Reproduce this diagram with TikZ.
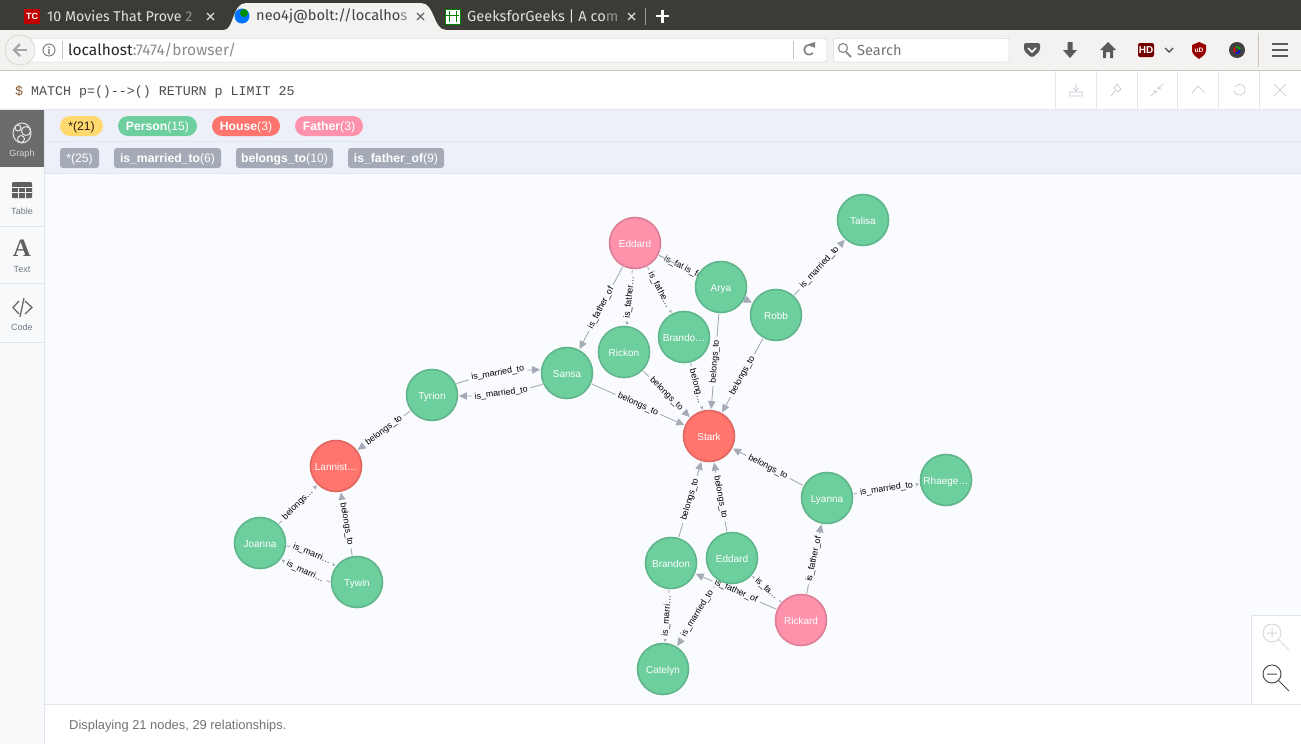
\documentclass[tikz,border=0pt]{standalone}
\usepackage{fontspec}
\setmainfont{Liberation Sans}
\setmonofont{Liberation Mono}
\newfontfamily\tabfont{Fira Sans}
\newfontfamily\serffont{Liberation Serif}
\usetikzlibrary{arrows.meta,backgrounds}

\definecolor{darkbar}{HTML}{3D3B36}
\definecolor{toolbg}{HTML}{F3F2F0}
\definecolor{toolline}{HTML}{C9C5C0}
\definecolor{stripbg}{HTML}{EDF0F8}
\definecolor{stripline}{HTML}{E1E5EE}
\definecolor{canvasbg}{HTML}{FAFBFE}
\definecolor{sidebg}{HTML}{F8F9FB}
\definecolor{sidedark}{HTML}{6B6B6B}
\definecolor{sidetext}{HTML}{717784}
\definecolor{relgrey}{HTML}{A5ABB6}
\definecolor{persongreen}{HTML}{6DCE9E}
\definecolor{personline}{HTML}{60B58B}
\definecolor{housered}{HTML}{FF756E}
\definecolor{houseline}{HTML}{E06760}
\definecolor{fatherpink}{HTML}{FF92AB}
\definecolor{fatherline}{HTML}{DC7E96}
\definecolor{allyellow}{HTML}{FFD86E}
\definecolor{icongrey}{HTML}{5A5A5A}

\tikzset{
  person/.style={circle,draw=personline,fill=persongreen,line width=1.6pt,minimum size=51pt,inner sep=0pt,text=white,font=\fontsize{10}{12}\selectfont,text height=9.6pt,text depth=0pt,outer sep=1.5pt},
  house/.style={person,draw=houseline,fill=housered},
  father/.style={person,draw=fatherline,fill=fatherpink},
  rel/.style={draw=relgrey,line width=.9pt,->},
  rellabel/.style={sloped,fill=canvasbg,inner xsep=3pt,inner ysep=.5pt,text=black,font=\fontsize{8.8}{10}\selectfont},
  pill/.style={rounded corners=10pt,minimum height=20pt,inner sep=0pt,text=white,text height=9pt,text depth=0pt,font=\fontsize{12.2}{14}\selectfont},
  relpill/.style={pill,rounded corners=3pt,fill=relgrey},
  tabtext/.style={anchor=west,inner sep=0pt,text=white!88!black,font=\tabfont\fontsize{14.6}{16}\selectfont},
  sidelabel/.style={inner sep=0pt,text=sidetext,font=\fontsize{9}{11}\selectfont},
  cornerbtn/.style={draw=relgrey!70,line width=.6pt},
  closex/.style={draw=white!85!black,line width=1.4pt},
  tooldark/.style={fill=icongrey}
}

\begin{document}
\begin{tikzpicture}[x=1pt,y=-1pt,>={Stealth[inset=0pt,length=8pt,width=7.5pt]}]
\useasboundingbox (0,0) rectangle (1301,744);

\begin{pgfonlayer}{background}
% browser frame
\fill[white] (0,0) rectangle (1301,744);
\fill[darkbar] (0,0) rectangle (1301,30);
\fill[toolbg] (0,30) rectangle (1301,70);
\draw[toolline] (0,70) -- (1301,70);
\fill[toolbg] (224,30) .. controls (234,30) and (232,3) .. (246,3) -- (421,3) .. controls (435,3) and (433,30) .. (446,30) -- cycle;
% neo4j panels
\fill[stripbg] (44,110) rectangle (1301,173);
\fill[canvasbg] (44,174) rectangle (1301,704);
\fill[sidebg] (0,110) rectangle (44,744);
\fill[sidedark] (0,110) rectangle (44,167);
\draw[stripline] (0,109.5) -- (1301,109.5);
\draw[stripline] (44,141) -- (1301,141);
\draw[stripline] (44,173.5) -- (1301,173.5);
\draw[stripline] (44,110) -- (44,744);
\draw[stripline] (0,226) -- (44,226);
\draw[stripline] (0,283) -- (44,283);
\draw[stripline] (0,342) -- (44,342);
\fill[white] (45,705) rectangle (1301,744);
\draw[stripline] (44,704.5) -- (1301,704.5);
\fill[white] (1251,615) rectangle (1301,704);
\draw[stripline] (1251,704) -- (1251,615) -- (1301,615);
\end{pgfonlayer}

% tabs
\fill[red!75!black] (24,9) rectangle (40,24);
\node[inner sep=0pt,text=white,font=\bfseries\fontsize{9}{10}\selectfont] (tcicon) at (32,16.5) {TC};
\node[tabtext,font=\tabfont\fontsize{14.2}{16}\selectfont] (tabone) at (47,16) {10 Movies That Prove {\color{white!45!darkbar}2}};
\draw[closex] (207,13) -- (214,20) (214,13) -- (207,20);
\fill[blue!55!cyan] (242,16) circle (7.5pt);
\fill[green!55!black] (244,13) circle (4pt);
\node[tabtext,text=black!75] (tabtwo) at (256,16) {neo4j@bolt://localho{\color{black!45}s}};
\draw[closex,draw=black!60] (417,13) -- (424,20) (424,13) -- (417,20);
\draw[green!50!black,fill=white] (445,9) rectangle (460,24);
\draw[green!50!black,line width=.9pt] (449,11) -- (449,22) (456,11) -- (456,22) (446,15) -- (459,15);
\node[tabtext] (tabthree) at (467,16) {GeeksforGeeks | A co{\color{white!45!darkbar}m}};
\draw[closex] (628,13) -- (635,20) (635,13) -- (628,20);
\draw[white!50!darkbar] (645,8) -- (645,25);
\draw[white,line width=2.2pt] (656,16) -- (669,16) (662.5,9.5) -- (662.5,22.5);

% address bar
\draw[toolline,fill=white,rounded corners=2pt] (20,38.5) rectangle (827,62);
\draw[toolline,fill=toolbg] (20,50) circle (15pt);
\draw[black!35,line width=2.4pt] (14,50) -- (27,50);
\draw[black!35,line width=2.4pt] (20,44) -- (14,50) -- (20,56);
\draw[black!60,line width=.8pt] (49,50) circle (6pt);
\fill[black!60] (48.3,46.5) rectangle (49.7,48) (48.3,49) rectangle (49.7,54);
\draw[toolline] (62,41) -- (62,59);
\node[anchor=west,inner sep=0pt,font=\tabfont\fontsize{15.5}{17}\selectfont] (address) at (68,50.5) {\textcolor{black!85}{localhost}\textcolor{black!45}{:7474/browser/}};
\draw[toolline] (793,41) -- (793,59);
\draw[black!50,line width=1.6pt] (813,46.5) arc[start angle=40,end angle=320,radius=5pt];
\fill[black!50] (809,44) -- (815,42) -- (815,48) -- cycle;
\draw[toolline,fill=white,rounded corners=2pt] (833.5,38.5) rectangle (1009,62);
\draw[black!45,line width=1.2pt] (843,48) circle (4.5pt);
\draw[black!45,line width=1.8pt] (846,52) -- (851,57);
\node[anchor=west,inner sep=0pt,text=black!55,font=\tabfont\fontsize{14.6}{16}\selectfont] (search) at (857,50.5) {Search};

% toolbar icons
\fill[icongrey,rounded corners=2pt] (1024,43) -- (1040,43) -- (1040,51) -- (1032,58) -- (1024,51) -- cycle;
\draw[white,line width=1.6pt] (1028,48) -- (1032,52) -- (1036,48);
\fill[tooldark] (1067.5,42) rectangle (1072.5,50) -- (1077,50) -- (1070,58) -- (1063,50) -- (1067.5,50) -- cycle;
\fill[tooldark] (1108,42) -- (1116,50) -- (1113,50) -- (1113,58) -- (1110,58) -- (1110,52) -- (1106,52) -- (1106,58) -- (1103,58) -- (1103,50) -- (1100,50) -- cycle;
\fill[red!45!black,rounded corners=2pt] (1138,43) rectangle (1154,57);
\node[inner sep=0pt,text=white,font=\bfseries\fontsize{10}{11}\selectfont] (hdicon) at (1146,50) {HD};
\draw[icongrey,line width=1.4pt] (1165,48) -- (1169,52) -- (1173,48);
\fill[red!60!black] (1192,45) -- (1199,42) -- (1206,45) -- (1206,51) .. controls (1205,55) and (1202,57) .. (1199,59) .. controls (1196,57) and (1193,55) .. (1192,51) -- cycle;
\node[inner sep=0pt,text=white,font=\bfseries\fontsize{6.5}{7}\selectfont] (ublock) at (1199,50) {uD};
\fill[black!75] (1237,50) circle (8pt);
\draw[line width=1.3pt,green!70!black] (1240,50) arc[start angle=0,end angle=120,radius=3pt];
\draw[line width=1.3pt,red] (1235.5,47.4) arc[start angle=120,end angle=240,radius=3pt];
\draw[line width=1.3pt,blue] (1235.5,52.6) arc[start angle=240,end angle=360,radius=3pt];
\draw[toolline] (1258,33) -- (1258,67);
\draw[icongrey,line width=2pt] (1272,44) -- (1288,44) (1272,50) -- (1288,50) (1272,56) -- (1288,56);

% query bar
\node[anchor=west,inner sep=0pt,text=black!70,font=\ttfamily\fontsize{13.3}{15}\selectfont] (query) at (15,92) {\textcolor{brown!70!black}{\$} MATCH p=(){-}{-}>() RETURN p LIMIT 25};
\draw[stripline] (1055,71) -- (1055,109) (1096,71) -- (1096,109) (1137,71) -- (1137,109) (1177,71) -- (1177,109) (1218,71) -- (1218,109) (1259,71) -- (1259,109);
\draw[cornerbtn] (1070,92) rectangle (1082,96) (1076,84) -- (1076,91) (1073,88) -- (1076,91) -- (1079,88);
\draw[cornerbtn] (1111,96) -- (1115,91) (1114,88) -- (1118,92) -- (1121,89) -- (1117,84) -- cycle;
\draw[cornerbtn] (1151,96) -- (1156,91) (1156,94) -- (1156,91) -- (1153,91) (1163,84) -- (1158,89) (1158,86) -- (1158,89) -- (1161,89);
\draw[cornerbtn] (1192,93) -- (1198,86) -- (1205,93);
\draw[cornerbtn] (1235,87) arc[start angle=150,end angle=-170,radius=5.5pt];
\draw[cornerbtn] (1274,84) -- (1286,96) (1286,84) -- (1274,96);

% legend
\node[pill,fill=allyellow,text=black!75!brown,minimum width=43pt] (allnodes) at (81.5,126) {*(21)};
\node[pill,fill=persongreen,minimum width=79pt] (personpill) at (157.5,126) {\textbf{Person}(15)};
\node[pill,fill=housered,minimum width=68pt] (housepill) at (246,126) {\textbf{House}(3)};
\node[pill,fill=fatherpink,minimum width=68pt] (fatherpill) at (329,126) {\textbf{Father}(3)};
\node[relpill,minimum width=39pt] (allrels) at (79.5,158) {*(25)};
\node[relpill,minimum width=107pt] (marriedpill) at (167.5,158) {\textbf{is\_married\_to}(6)};
\node[relpill,minimum width=97pt] (belongspill) at (284.5,158) {\textbf{belongs\_to}(10)};
\node[relpill,minimum width=96pt] (fatherofpill) at (396,158) {\textbf{is\_father\_of}(9)};

% sidebar
\draw[white!90!black,line width=1pt] (22,133) ellipse (9pt and 10pt);
\draw[white!90!black,fill=sidedark,line width=1pt] (18,128) circle (3pt) (26,131) circle (4.5pt) (21,139) circle (3.5pt);
\node[sidelabel,text=white!85!black] (graphtab) at (22,154.5) {Graph};
\fill[sidedark!90!black,rounded corners=1pt] (12,182) rectangle (32,198);
\draw[sidebg,line width=.9pt] (12,187) -- (32,187) (12,192) -- (32,192) (18.5,187) -- (18.5,198) (25.5,187) -- (25.5,198);
\node[sidelabel] (tabletab) at (22,211) {Table};
\node[inner sep=0pt,text=sidedark!90!black,font=\serffont\bfseries\fontsize{25}{26}\selectfont] (bigA) at (22,248) {A};
\node[sidelabel] (texttab) at (22,269) {Text};
\draw[sidedark,line width=1.3pt] (19,301) -- (13,307.5) -- (19,314) (25,301) -- (32,307.5) -- (25,314) (24,298) -- (20,317);
\node[sidelabel] (codetab) at (22,327) {Code};

% zoom buttons and footer
\draw[black!15,line width=1pt] (1272,633) circle (9pt) (1278.5,639.5) -- (1289,650) (1267,633) -- (1277,633) (1272,628) -- (1272,638);
\draw[black!70,line width=1pt] (1272,674) circle (9pt) (1278.5,680.5) -- (1289,691) (1267,674) -- (1277,674);
\node[anchor=west,inner sep=0pt,text=black!55,font=\fontsize{12.9}{14}\selectfont] (footer) at (69,726) {Displaying 21 nodes, 29 relationships.};

% graph
\node[father] (eddard) at (635,243) {Eddard};
\node[person] (talisa) at (863,220) {Talisa};
\node[person] (arya) at (721,287) {Arya};
\node[person] (robb) at (776,315) {Robb};
\node[person] (brandonstark) at (684,337) {Brando\ldots};
\node[person] (rickon) at (624,352) {Rickon};
\node[person] (sansa) at (567,373) {Sansa};
\node[person] (tyrion) at (432,395) {Tyrion};
\node[house] (stark) at (709,436) {Stark};
\node[house] (lannister) at (336,466) {Lannist\ldots};
\node[person] (joanna) at (260,543) {Joanna};
\node[person] (tywin) at (357,582) {Tywin};
\node[person] (lyanna) at (827,498) {Lyanna};
\node[person] (rhaegar) at (946,480) {Rhaege\ldots};
\node[person] (brandon) at (671,563) {Brandon};
\node[person] (eddardtwo) at (732,558) {Eddard};
\node[father] (rickard) at (801,620) {Rickard};
\node[person] (catelyn) at (663,669) {Catelyn};

\begin{pgfonlayer}{background}
\draw[rel] (eddard) -- node[rellabel] (fa) {is\_father\_of} (sansa);
\draw[rel] (eddard) -- node[rellabel] (fb) {is\_father\ldots} (rickon);
\draw[rel] (eddard) -- node[rellabel] (fc) {is\_fathe\ldots} (brandonstark);
\draw[rel] (eddard) -- node[rellabel] (fd) {is\_fat\ldots} (arya);
\draw[rel] (eddard) -- node[rellabel] (fe) {is\_father\_of} (robb);
\draw[rel] (robb) -- node[rellabel] (ma) {is\_married\_to} (talisa);
\draw[rel] (tyrion.25) to[bend left=8] node[rellabel] (mb) {is\_married\_to} (sansa.173);
\draw[rel] (sansa.205) to[bend left=8] node[rellabel] (mc) {is\_married\_to} (tyrion.-2);
\draw[rel] (joanna.-6) to[bend left=8] node[rellabel] (md) {is\_marri\ldots} (tywin.143);
\draw[rel] (tywin.180) to[bend left=4] node[rellabel] (me) {is\_marri\ldots} (joanna.-38);
\draw[rel] (lyanna) -- node[rellabel] (mf) {is\_married\_to} (rhaegar);
\draw[rel] (brandon) -- node[rellabel] (mg) {is\_marri\ldots} (catelyn);
\draw[rel] (eddardtwo) -- node[rellabel] (mh) {is\_married\_to} (catelyn);
\draw[rel] (sansa) -- node[rellabel] (ba) {belongs\_to} (stark);
\draw[rel] (rickon) -- node[rellabel] (bb) {belongs\_to} (stark);
\draw[rel] (brandonstark) -- node[rellabel] (bc) {belong\ldots} (stark);
\draw[rel] (arya) -- node[rellabel] (bd) {belongs\_to} (stark);
\draw[rel] (robb) -- node[rellabel] (be) {belongs\_to} (stark);
\draw[rel] (lyanna) -- node[rellabel] (bf) {belongs\_to} (stark);
\draw[rel] (brandon) -- node[rellabel] (bg) {belongs\_to} (stark);
\draw[rel] (eddardtwo) -- node[rellabel] (bh) {belongs\_to} (stark);
\draw[rel] (tyrion) -- node[rellabel] (bi) {belongs\_to} (lannister);
\draw[rel] (joanna) -- node[rellabel] (bj) {belongs\ldots} (lannister);
\draw[rel] (tywin) -- node[rellabel] (bk) {belongs\_to} (lannister);
\draw[rel] (rickard) -- node[rellabel] (ff) {is\_father\_of} (lyanna);
\draw[rel] (rickard) -- node[rellabel] (fg) {is\_father\_of} (brandon);
\draw[rel] (rickard) -- node[rellabel] (fh) {is\_fa\ldots} (eddardtwo);
\end{pgfonlayer}
\end{tikzpicture}
\end{document}
